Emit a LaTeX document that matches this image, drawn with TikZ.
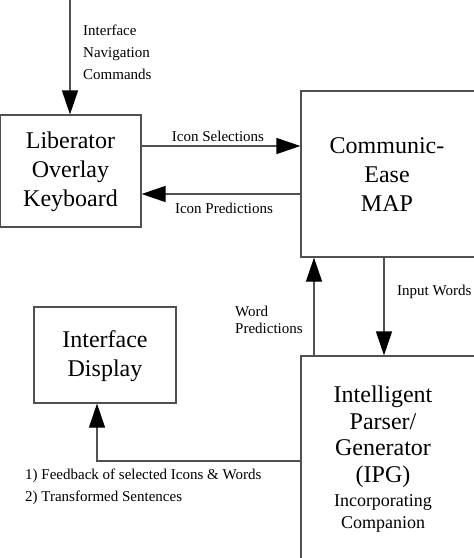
\documentclass[tikz,border=0pt]{standalone}
\usepackage{fontspec}
\setmainfont{Liberation Serif}
\usetikzlibrary{arrows.meta}
\definecolor{linec}{HTML}{505050}
\tikzset{
  blk/.style={draw=linec, line width=1.2pt, rectangle, inner sep=0pt},
  big/.style={font=\fontsize{24}{29}\selectfont, align=center, inner sep=0pt},
  lbl/.style={font=\fontsize{15}{22}\selectfont, inner sep=0pt},
  flow/.style={draw=linec, line width=1.2pt, -{Triangle[length=24pt,width=16pt,color=black]}},
  plain/.style={draw=linec, line width=1.2pt}
}
\begin{document}
\begin{tikzpicture}[x=1pt,y=-1pt]
\useasboundingbox (0,0) rectangle (474,558);
\clip (0,0) rectangle (474,558);
% boxes
\node[blk, minimum width=141pt, minimum height=112pt] (lib) at (70.5,171) {};
\node[big] (libtext) at (70.5,172) {Liberator\\Overlay\\Keyboard};
\node[blk, minimum width=190pt, minimum height=166pt] (map) at (396,174) {};
\node[big] (maptext) at (387,175) {Communic-\\Ease\\MAP};
\node[blk, minimum width=142pt, minimum height=96pt] (disp) at (105,355) {};
\node[big] (disptext) at (105,356) {Interface\\Display};
\node[blk, minimum width=190pt, minimum height=240pt] (ipg) at (396,476) {};
\node[big, anchor=north, font=\fontsize{24}{26.5}\selectfont] (ipgtext) at (383,386) {Intelligent\\Parser/\\Generator\\(IPG)\\[-2pt]{\fontsize{18}{22}\selectfont Incorporating}\\[-5pt]{\fontsize{18}{22}\selectfont Companion}};
% top input
\coordinate (topin) at (70,0);
\draw[flow] (topin) -- (lib.north -| topin);
\node[lbl, anchor=west, align=left] (navlbl) at (83,52) {Interface\\Navigation\\Commands};
% icon selections / predictions
\draw[flow] (lib.east |- 0,146) -- (map.west |- 0,146);
\node[lbl] (sellbl) at (218,136) {Icon Selections};
\draw[flow] (map.west |- 0,194) -- (lib.east |- 0,194);
\node[lbl] (predlbl) at (224,208) {Icon Predictions};
% input words
\draw[flow] (map.south -| 384,0) -- (ipg.north -| 384,0);
\node[lbl, anchor=west] (inlbl) at (397,292) {Input Words};
% word predictions
\draw[flow] (ipg.north -| 314,0) -- (map.south -| 314,0);
\node[lbl, anchor=west, align=left, font=\fontsize{15}{17}\selectfont] (wplbl) at (235,320) {Word\\Predictions};
% feedback
\coordinate (fbc) at (97,461);
\draw[flow] (ipg.west |- fbc) -- (fbc) -- (disp.south -| fbc);
\node[lbl, anchor=west, align=left] (fblbl) at (25,487) {1) Feedback of selected Icons \& Words\\2) Transformed Sentences};
\end{tikzpicture}
\end{document}
